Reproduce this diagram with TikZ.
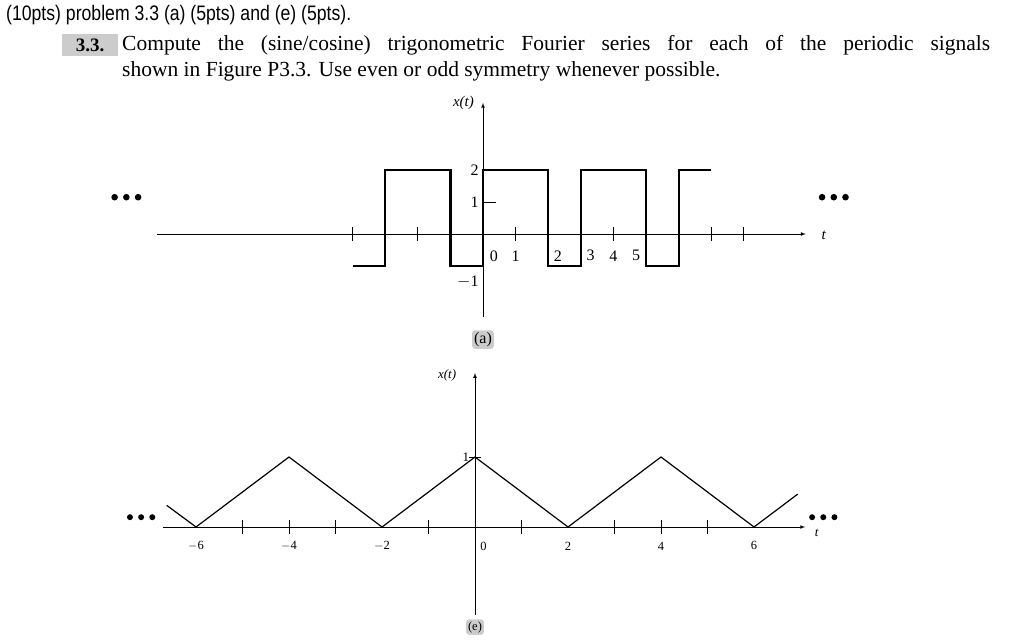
\documentclass[tikz,border=0pt]{standalone}
\usepackage{fontspec}
\setmainfont{Liberation Serif}
\newfontfamily\titlefont{Liberation Sans}
\begin{document}
\begin{tikzpicture}[x=1pt,y=-1pt,
  sig/.style={line width=2.2pt},
  ax/.style={line width=0.7pt},
  lab/.style={font=\fontsize{16}{18}\selectfont, inner sep=1pt},
  elab/.style={font=\fontsize{12.5}{14}\selectfont, inner sep=1pt}]
\useasboundingbox (0,0) rectangle (1024,639);
\node[anchor=west, inner sep=0pt] (title) at (6,15) {\titlefont\fontsize{21}{24}\selectfont\scalebox{0.84}[1]{(10pts) problem 3.3 (a) (5pts) and (e) (5pts).}};
\node[fill=gray!40, anchor=west, inner sep=1pt, minimum height=22pt, minimum width=56pt] (num) at (62,45) {\fontsize{19}{22}\selectfont\bfseries 3.3.};
\node[anchor=west, inner sep=0pt] (l1) at (122,45) {\fontsize{21.5}{24}\selectfont\hbox to 868pt{Compute\hfill the\hfill (sine/cosine)\hfill trigonometric\hfill Fourier\hfill series\hfill for\hfill each\hfill of\hfill the\hfill periodic\hfill signals}};
\node[anchor=west, inner sep=0pt] (l2) at (122,71) {\fontsize{21.5}{24}\selectfont shown in Figure P3.3. Use even or odd symmetry whenever possible.};
% ---- plot (a)
\begin{scope}[shift={(483,234)}, x=32.6pt, y=32pt]
\coordinate (aL) at (-10.0,0); \coordinate (aR) at (9.9,0);
\coordinate (aB) at (0,-2.6); \coordinate (aT) at (0,4.1);
\draw[ax,-latex] (aL) -- (aR);
\draw[ax,-latex] (aB) -- (aT);
\foreach \t in {-4,-2,1,4,7,8} \draw[ax] (\t,0.22) -- (\t,-0.22);
\draw[ax] (0,1) -- (0.4,1);
\draw[sig] (-4,-1) -- (-3,-1) -- (-3,2) -- (-1,2) -- (-1,-1) -- (0,-1) -- (0,2) -- (2,2) -- (2,-1) -- (3,-1) -- (3,2) -- (5,2) -- (5,-1) -- (6,-1) -- (6,2) -- (7,2);
\node[lab, anchor=east] (a2) at (-0.1,2) {2};
\node[lab, anchor=east] (a1) at (-0.1,1) {1};
\node[lab, anchor=east] (am1) at (-0.1,-1.5) {$-$1};
\node[lab] (a0) at (0.33,-0.68) {0};
\node[lab] (a1b) at (1,-0.68) {1};
\node[lab] (a2b) at (2.3,-0.68) {2};
\node[lab] (a3) at (3.3,-0.68) {3};
\node[lab] (a4) at (4,-0.68) {4};
\node[lab] (a5) at (4.7,-0.68) {5};
\node[lab, font=\fontsize{15}{17}\itshape] (axt) at (-0.6,4.1) {x(t)};
\node[lab, font=\fontsize{15}{17}\itshape] (at) at (10.45,-0.05) {t};
\node[lab, fill=gray!40, rounded corners=3pt, inner sep=2pt] (acap) at (0,-3.3) {(a)};
\foreach \i in {0,1,2} {
  \fill (-11.3+0.36*\i,1.15) circle (3.3pt);
  \fill (10.4+0.36*\i,1.15) circle (3.3pt);}
\end{scope}
% ---- plot (e)
\begin{scope}[shift={(475,527)}, x=46.5pt, y=70pt]
\coordinate (eL) at (-6.7,0); \coordinate (eR) at (7.1,0);
\coordinate (eB) at (0,-1.26); \coordinate (eT) at (0,2.2);
\draw[ax,-latex] (eL) -- (eR);
\draw[ax,-latex] (eB) -- (eT);
\foreach \t in {-5,-4,-3,-1,1,3,4,5} \draw[ax] (\t,0.1) -- (\t,-0.1);
\draw[ax] (-0.12,1) -- (0.12,1);
\draw[line width=1.2pt] (-6.63,0.31) -- (-6,0) -- (-4,1) -- (-2,0) -- (0,1) -- (2,0) -- (4,1) -- (6,0) -- (6.94,0.47);
\foreach \t/\s in {-6/$-$6,-4/$-$4,-2/$-$2,2/2,4/4,6/6} \node[elab] at (\t,-0.27) {\s};
\node[elab] (e0) at (0.18,-0.27) {0};
\node[elab, font=\fontsize{13}{15}\selectfont, anchor=east] (e1) at (-0.1,1.0) {1};
\node[elab, font=\fontsize{13}{15}\itshape] (ext) at (-0.6,2.17) {x(t)};
\node[elab, font=\fontsize{13}{15}\itshape] (et) at (7.35,-0.08) {t};
\node[elab, fill=gray!40, rounded corners=3pt, inner sep=2pt] (ecap) at (0,-1.43) {(e)};
\foreach \i in {0,1,2} {
  \fill (-7.42+0.24*\i,0.14) circle (3pt);
  \fill (7.25+0.24*\i,0.14) circle (3pt);}
\end{scope}
\end{tikzpicture}
\end{document}
